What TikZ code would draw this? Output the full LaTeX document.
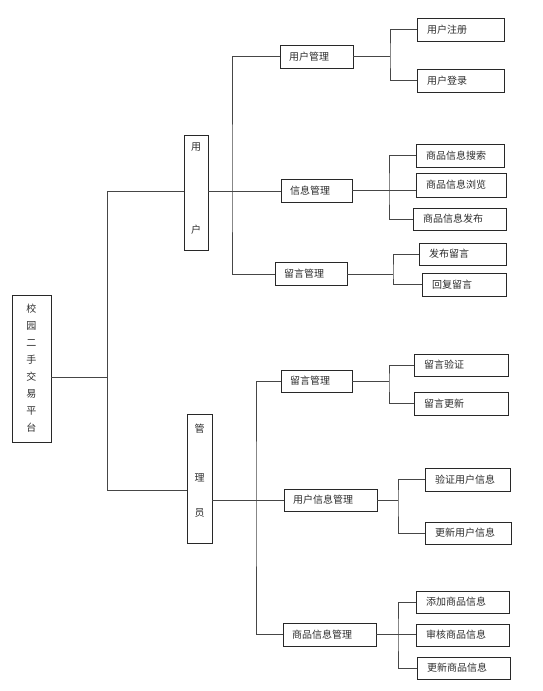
\documentclass[tikz,border=0pt]{standalone}
\usepackage{fontspec}
\newfontfamily\cjk{Noto Sans CJK SC}
\usepackage{xcolor}
\definecolor{lineGray}{RGB}{70, 70, 70}
\definecolor{boxGray}{RGB}{40, 40, 40}
\definecolor{textGray}{RGB}{45, 45, 45}
\usetikzlibrary{positioning, calc}
\tikzset{
    base/.style={draw=boxGray, line width=0.8pt, text=textGray, inner ysep=0pt, font=\cjk\fontsize{10}{12}\selectfont},
    module/.style={base, align=left, inner xsep=9pt, minimum height=23pt},
    leaf/.style={base, align=left, inner xsep=10pt, minimum height=23pt},
    vertBox/.style={base, align=center, inner sep=0pt},
    link/.style={draw=lineGray, line width=0.8pt}
}

\begin{document}
\begin{tikzpicture}[x=1pt, y=-1pt]
    \useasboundingbox (0,0) rectangle (543,691);

    % --- ROOT AND ROLES ---
    \node[vertBox, minimum width=39pt, minimum height=147pt, font=\cjk\fontsize{10}{17}\selectfont] (root) at (31.5,368.5) {校\\园\\二\\手\\交\\易\\平\\台};
    \node[vertBox, minimum width=24pt, minimum height=115pt] (user) at (196,192.5) {用\\[71pt]户\\[-4pt]\mbox{}};
    \node[vertBox, minimum width=25pt, minimum height=129pt] (admin) at (199.5,478.5) {管\\[37pt]理\\[23pt]员\\[5pt]\mbox{}};

    % --- MODULES ---
    \node[module, text width=55pt] (uMgmt) at (316.5,56.5) {用户管理};
    \node[module, text width=53pt] (uInfo) at (316.5,190.5) {信息管理};
    \node[module, text width=54pt] (uMsg) at (311,274) {留言管理};
    \node[module, text width=53pt, minimum height=22pt] (aMsg) at (316.5,381) {留言管理};
    \node[module, text width=75pt, minimum height=22pt] (aUser) at (330.5,500) {用户信息管理};
    \node[module, text width=75pt] (aGoods) at (329.5,634.5) {商品信息管理};

    % --- FUNCTIONS ---
    \node[leaf, text width=67pt] (regUser) at (460.5,29.5) {用户注册};
    \node[leaf, text width=67pt] (loginUser) at (460.5,80.5) {用户登录};
    \node[leaf, text width=68pt] (searchGoods) at (460,155.5) {商品信息搜索};
    \node[leaf, text width=70pt, minimum height=24pt] (browseGoods) at (461,185) {商品信息浏览};
    \node[leaf, text width=73pt, minimum height=22pt] (postGoods) at (459.5,219) {商品信息发布};
    \node[leaf, text width=67pt, minimum height=22pt] (postMsg) at (462.5,254) {发布留言};
    \node[leaf, text width=64pt] (replyMsg) at (464,284.5) {回复留言};
    \node[leaf, text width=74pt, minimum height=22pt] (checkMsg) at (461,365) {留言验证};
    \node[leaf, text width=74pt] (updateMsg) at (461,403.5) {留言更新};
    \node[leaf, text width=65pt, inner xsep=9pt+1pt] (checkUser) at (467.5,479.5) {验证用户信息};
    \node[leaf, text width=66pt, minimum height=22pt] (updateUser) at (468,533) {更新用户信息};
    \node[leaf, text width=73pt, minimum height=22pt] (addGoods) at (462.5,602) {添加商品信息};
    \node[leaf, text width=73pt, minimum height=22pt] (auditGoods) at (462.5,635) {审核商品信息};
    \node[leaf, text width=73pt, minimum height=22pt] (updateGoods) at (463.5,668) {更新商品信息};

    % --- CONNECTIONS ---
    \coordinate (tTop) at (107,191);
    \coordinate (tMid) at (107,377);
    \coordinate (tBot) at (107,490);
    \draw[link] (tMid -| root.east) -- (tMid);
    \draw[link] (tTop -| user.west) -- (tTop) -- (tBot) -- (tBot -| admin.west);

    % user side
    \coordinate (uJoin) at (232,191);
    \draw[link] (uJoin -| user.east) -- (uJoin -| uInfo.west);
    \draw[link] (uMgmt.west) -| (uJoin) |- (uMsg.west);

    \coordinate (uMgmtJoin) at (390,56.5);
    \draw[link] (uMgmt.east) -- (uMgmtJoin);
    \draw[link] (regUser.west) -| (uMgmtJoin) |- (loginUser.west);

    \coordinate (uInfoJoin) at (389,190.5);
    \draw[link] (uInfo.east) -- (uInfoJoin) -- (uInfoJoin -| browseGoods.west);
    \draw[link] (searchGoods.west) -| (uInfoJoin) |- (postGoods.west);

    \coordinate (uMsgJoin) at (393,274);
    \draw[link] (uMsg.east) -- (uMsgJoin);
    \draw[link] (postMsg.west) -| (uMsgJoin) |- (replyMsg.west);

    % admin side
    \coordinate (aJoin) at (256,500);
    \draw[link] (aJoin -| admin.east) -- (aUser.west);
    \draw[link] (aMsg.west) -| (aJoin) |- (aGoods.west);

    \coordinate (aMsgJoin) at (389,381);
    \draw[link] (aMsg.east) -- (aMsgJoin);
    \draw[link] (checkMsg.west) -| (aMsgJoin) |- (updateMsg.west);

    \coordinate (aUserJoin) at (398,500);
    \draw[link] (aUser.east) -- (aUserJoin);
    \draw[link] (checkUser.west) -| (aUserJoin) |- (updateUser.west);

    \coordinate (aGoodsJoin) at (398,634.5);
    \draw[link] (aGoods.east) -- (aGoodsJoin) -- (aGoodsJoin -| auditGoods.west);
    \draw[link] (addGoods.west) -| (aGoodsJoin) |- (updateGoods.west);

\end{tikzpicture}
\end{document}
